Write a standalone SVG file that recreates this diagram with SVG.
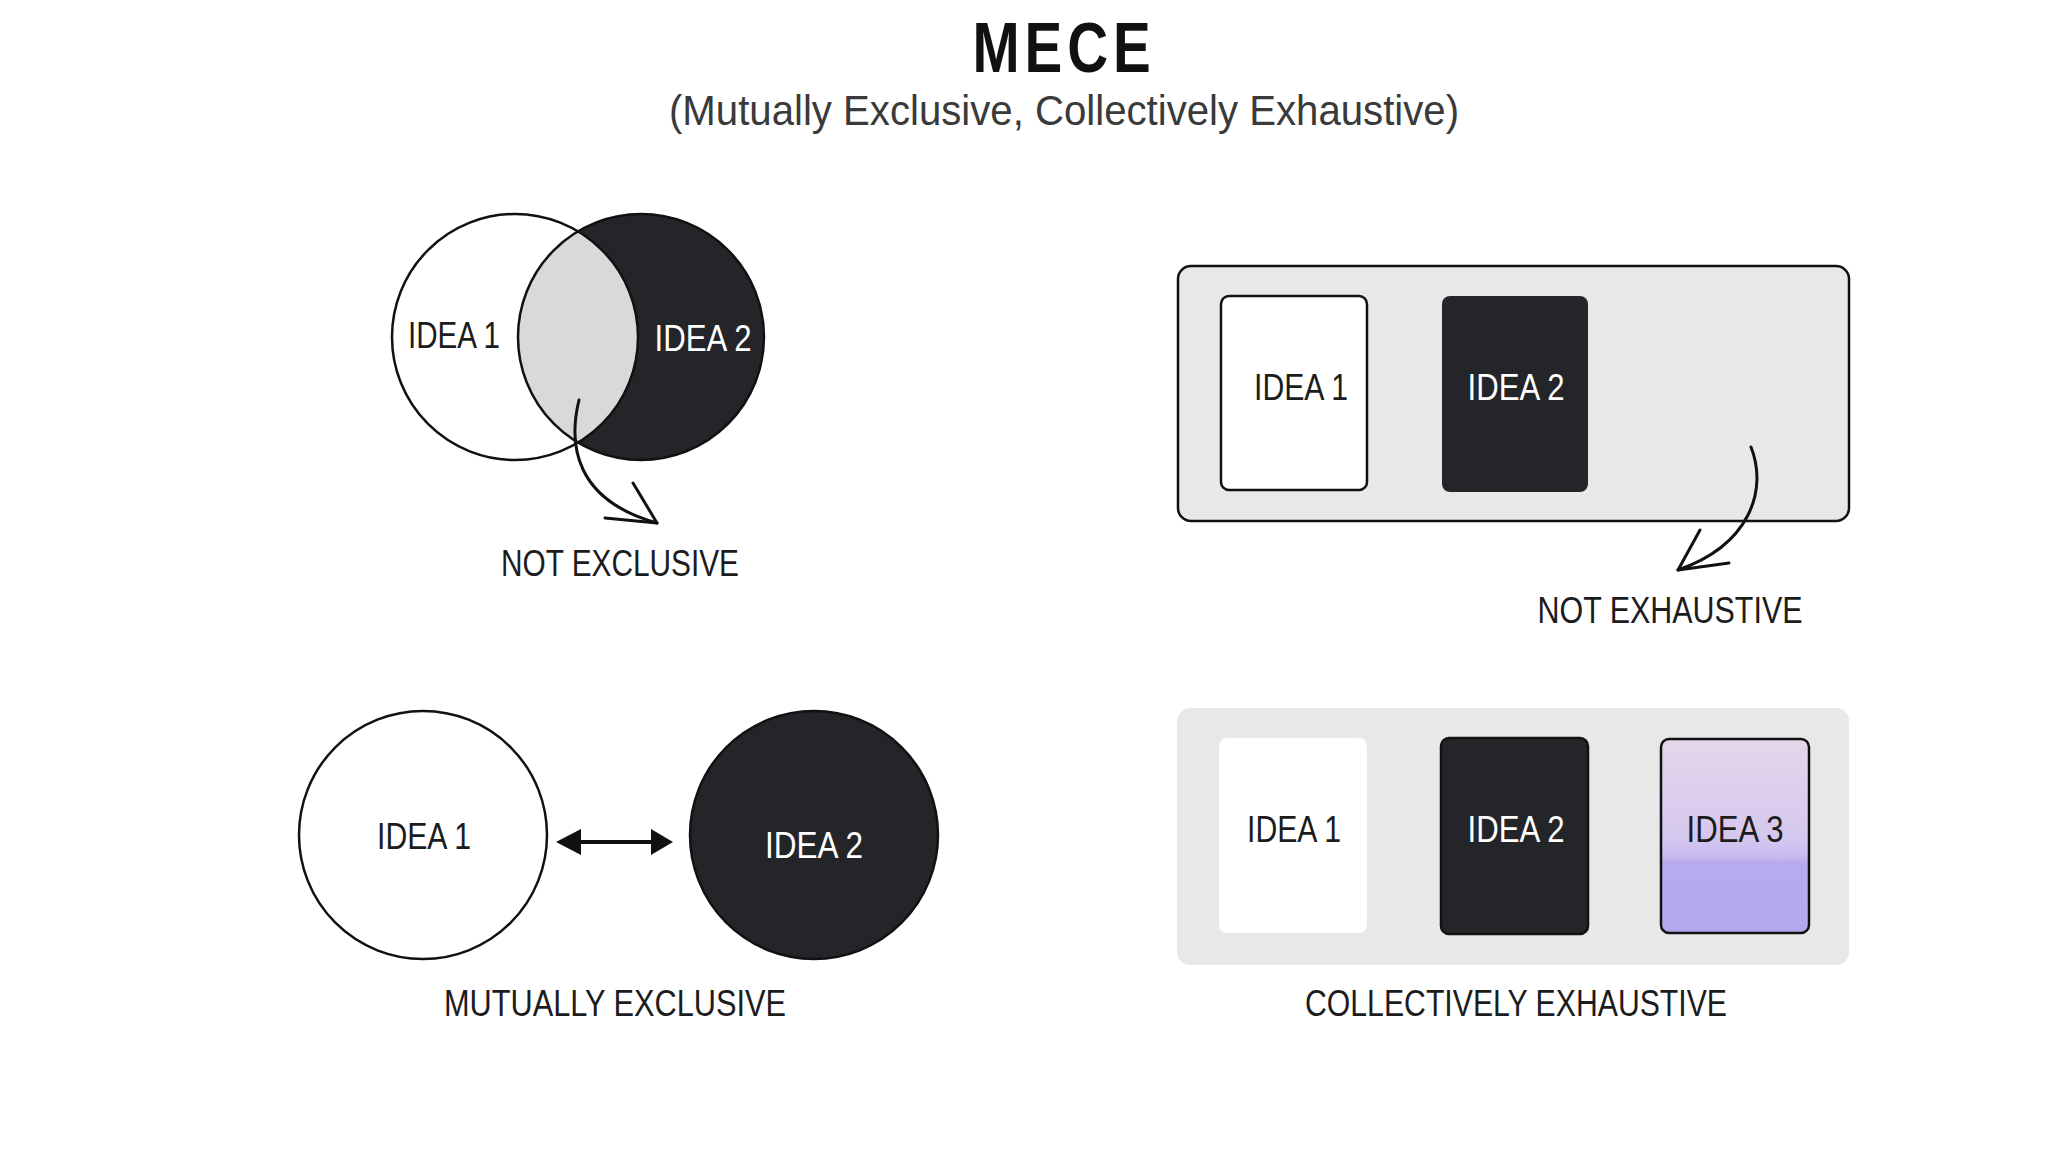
<svg xmlns="http://www.w3.org/2000/svg" width="2048" height="1152" viewBox="0 0 2048 1152">
  <defs>
    <style>
      .t { font-family: "Liberation Sans", Arial, sans-serif; text-anchor: middle; }
      .idea { font-size: 36px; fill: #1c1c1c; }
      .idea-w { font-size: 36px; fill: #ffffff; }
      .lbl { font-size: 36px; fill: #1c1c1c; }
      .ln { fill: none; stroke: #111111; stroke-width: 3; stroke-linecap: round; stroke-linejoin: round; }
      .dark { fill: #242528; }
      .head { fill: #111111; }
    </style>
    <clipPath id="clipC1">
      <circle cx="515" cy="337" r="123"/>
    </clipPath>
    <linearGradient id="purple" x1="0" y1="0" x2="0" y2="1">
      <stop offset="0" stop-color="#e4d6ea"/>
      <stop offset="0.5" stop-color="#d5c8ee"/>
      <stop offset="0.6" stop-color="#c9bcef"/>
      <stop offset="0.64" stop-color="#b8aaee"/>
      <stop offset="1" stop-color="#b5a7ed"/>
    </linearGradient>
  </defs>

  <rect width="2048" height="1152" fill="#ffffff"/>

  <g id="title">
    <text class="t" x="1064" y="72" font-size="70" font-weight="bold" fill="#111111" letter-spacing="6" textLength="183" lengthAdjust="spacingAndGlyphs">MECE</text>
    <text class="t" x="1064" y="125" font-size="42" fill="#3a3a3a" textLength="790" lengthAdjust="spacingAndGlyphs">(Mutually Exclusive, Collectively Exhaustive)</text>
  </g>

  <!-- Top-left: Venn -->
  <g id="venn-idea1">
    <circle cx="515" cy="337" r="123" fill="#ffffff"/>
  </g>
  <g id="venn-idea2">
    <circle cx="641" cy="337" r="123" class="dark"/>
  </g>
  <g id="venn-overlap">
    <circle cx="641" cy="337" r="123" fill="#d9d9d9" clip-path="url(#clipC1)"/>
    <circle cx="515" cy="337" r="123" fill="none" stroke="#111111" stroke-width="2.5"/>
    <circle cx="641" cy="337" r="123" fill="none" stroke="#111111" stroke-width="2.5"/>
    <text class="t idea" x="454" y="348" textLength="92" lengthAdjust="spacingAndGlyphs">IDEA 1</text>
    <text class="t idea-w" x="703" y="351" textLength="97" lengthAdjust="spacingAndGlyphs">IDEA 2</text>
  </g>
  <g id="label-not-exclusive">
    <text class="t lbl" x="620" y="576" textLength="238" lengthAdjust="spacingAndGlyphs">NOT EXCLUSIVE</text>
  </g>

  <!-- Top-right: not exhaustive -->
  <g id="box-not-exhaustive">
    <rect x="1178" y="266" width="671" height="255" rx="13" fill="#e8e8e8" stroke="#111111" stroke-width="2.5"/>
  </g>
  <g id="ne-idea1">
    <rect x="1221" y="296" width="146" height="194" rx="8" fill="#ffffff" stroke="#111111" stroke-width="2.5"/>
    <text class="t idea" x="1301" y="400" textLength="94" lengthAdjust="spacingAndGlyphs">IDEA 1</text>
  </g>
  <g id="ne-idea2">
    <rect x="1442" y="296" width="146" height="196" rx="8" class="dark"/>
    <text class="t idea-w" x="1516" y="400" textLength="97" lengthAdjust="spacingAndGlyphs">IDEA 2</text>
  </g>
  <g id="label-not-exhaustive">
    <text class="t lbl" x="1670" y="623" textLength="265" lengthAdjust="spacingAndGlyphs">NOT EXHAUSTIVE</text>
  </g>

  <!-- Bottom-left: mutually exclusive -->
  <g id="me-idea1">
    <circle cx="423" cy="835" r="124" fill="#ffffff" stroke="#111111" stroke-width="2.5"/>
    <text class="t idea" x="424" y="849" textLength="94" lengthAdjust="spacingAndGlyphs">IDEA 1</text>
  </g>
  <g id="me-idea2">
    <circle cx="814" cy="835" r="124" class="dark" stroke="#111111" stroke-width="2.5"/>
    <text class="t idea-w" x="814" y="858" textLength="98" lengthAdjust="spacingAndGlyphs">IDEA 2</text>
  </g>
  <g id="label-mutually-exclusive">
    <text class="t lbl" x="615" y="1016" textLength="342" lengthAdjust="spacingAndGlyphs">MUTUALLY EXCLUSIVE</text>
  </g>

  <!-- Bottom-right: collectively exhaustive -->
  <g id="box-collectively-exhaustive">
    <rect x="1177" y="708" width="672" height="257" rx="13" fill="#e8e8e8"/>
  </g>
  <g id="ce-idea1">
    <rect x="1219" y="738" width="148" height="195" rx="8" fill="#ffffff"/>
    <text class="t idea" x="1294" y="842" textLength="94" lengthAdjust="spacingAndGlyphs">IDEA 1</text>
  </g>
  <g id="ce-idea2">
    <rect x="1441" y="738" width="147" height="196" rx="8" class="dark" stroke="#111111" stroke-width="2.5"/>
    <text class="t idea-w" x="1516" y="842" textLength="97" lengthAdjust="spacingAndGlyphs">IDEA 2</text>
  </g>
  <g id="ce-idea3">
    <rect x="1661" y="739" width="148" height="194" rx="8" fill="url(#purple)" stroke="#111111" stroke-width="2.5"/>
    <text class="t idea" x="1735" y="842" textLength="97" lengthAdjust="spacingAndGlyphs">IDEA 3</text>
  </g>
  <g id="label-collectively-exhaustive">
    <text class="t lbl" x="1516" y="1016" textLength="422" lengthAdjust="spacingAndGlyphs">COLLECTIVELY EXHAUSTIVE</text>
  </g>

  <!-- Connectors -->
  <g id="connectors">
    <path class="ln" d="M579,400 C568,445 575,500 657,523"/>
    <path class="ln" d="M633,483 L657,523 L605,518"/>
    <path class="ln" d="M1751,447 C1768,490 1750,545 1678,570"/>
    <path class="ln" d="M1700,530 L1678,570 L1729,563"/>
    <line x1="578" y1="842" x2="654" y2="842" stroke="#111111" stroke-width="4"/>
    <polygon class="head" points="556,842 581,829 581,855"/>
    <polygon class="head" points="673,842 651,829 651,855"/>
  </g>
</svg>
